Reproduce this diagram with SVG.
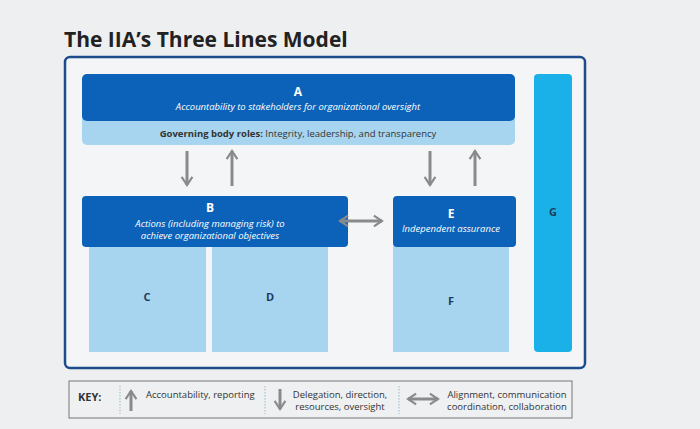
<svg xmlns="http://www.w3.org/2000/svg" width="700" height="429" viewBox="0 0 700 429">
<defs>
<marker id="ah" viewBox="0 0 10 10" refX="7" refY="5" markerWidth="4.5" markerHeight="4.5" orient="auto-start-reverse"><path d="M1,1 L7,5 L1,9" fill="none" stroke="#8a8a8a" stroke-width="1.6"/></marker>
</defs>
<style>
text{font-family:"Open Sans","Liberation Sans",sans-serif}
.dk{fill:#0b62b8}.lt{fill:#a7d5ef}
.w{fill:#fff;font-size:9.5px;font-style:italic}
.wb{fill:#fff;font-size:12px;font-weight:bold}
.k{fill:#333;font-size:9.5px}
.ar{stroke:#8a8a8a;stroke-width:3;fill:none;marker-end:url(#ah)}
.dash{stroke:#9ab8cc;stroke-width:1;stroke-dasharray:1.5 1.5}
</style>
<rect width="700" height="429" fill="#eeeff0"/>
<text x="64" y="47" font-size="21" font-weight="bold" fill="#222">The IIA’s Three Lines Model</text>
<rect x="65" y="57" width="520" height="311" rx="5" fill="#f3f5f6" stroke="#1d4c8c" stroke-width="2.5"/>
<g id="A">
<rect x="82" y="74" width="433" height="71" rx="5" class="lt"/>
<rect x="82" y="74" width="433" height="47" rx="5" class="dk"/>
<text x="298" y="96" text-anchor="middle" class="wb">A</text>
<text x="298" y="110" text-anchor="middle" class="w">Accountability to stakeholders for organizational oversight</text>
<text x="298" y="137" text-anchor="middle" font-size="9.5" fill="#333"><tspan font-weight="bold">Governing body roles:</tspan> Integrity, leadership, and transparency</text>
</g>
<g id="G"><rect x="534" y="74" width="38" height="278" rx="4" fill="#1ab0e8"/><text x="553" y="216" text-anchor="middle" font-size="11" font-weight="bold" fill="#1d3c5c">G</text></g>
<g id="C"><rect x="89" y="246" width="117" height="106" class="lt"/><text x="147" y="301" text-anchor="middle" font-size="11" font-weight="bold" fill="#1d3c5c">C</text></g>
<g id="D"><rect x="212" y="246" width="116" height="106" class="lt"/><text x="270" y="301" text-anchor="middle" font-size="11" font-weight="bold" fill="#1d3c5c">D</text></g>
<g id="F"><rect x="393" y="246" width="116" height="106" class="lt"/><text x="451" y="305" text-anchor="middle" font-size="11" font-weight="bold" fill="#1d3c5c">F</text></g>
<g id="B"><rect x="82" y="196" width="266" height="51" rx="4" class="dk"/>
<text x="210" y="212" text-anchor="middle" class="wb" font-size="11">B</text>
<text x="210" y="227" text-anchor="middle" class="w">Actions (including managing risk) to</text>
<text x="210" y="239" text-anchor="middle" class="w">achieve organizational objectives</text></g>
<g id="E"><rect x="393" y="196" width="123" height="51" rx="4" class="dk"/>
<text x="451" y="218" text-anchor="middle" class="wb" font-size="11">E</text>
<text x="451" y="232" text-anchor="middle" class="w">Independent assurance</text></g>
<g id="connectors">
<line x1="187" y1="151" x2="187" y2="185" class="ar"/>
<line x1="232" y1="186" x2="232" y2="151" class="ar"/>
<line x1="430" y1="151" x2="430" y2="185" class="ar"/>
<line x1="475" y1="186" x2="475" y2="151" class="ar"/>
<line x1="340" y1="221" x2="382" y2="221" class="ar" marker-start="url(#ah)"/>
</g>
<g id="key">
<rect x="69" y="381" width="503" height="37" fill="#eef0f1" stroke="#777" stroke-width="1"/>
<text x="78" y="401" font-size="11" font-weight="bold" fill="#333">KEY:</text>
<line x1="120" y1="386" x2="120" y2="414" class="dash"/>
<line x1="131" y1="411" x2="131" y2="391" class="ar"/>
<text x="146" y="398" class="k">Accountability, reporting</text>
<line x1="265" y1="386" x2="265" y2="414" class="dash"/>
<line x1="280" y1="389" x2="280" y2="409" class="ar"/>
<text x="340" y="398" text-anchor="middle" class="k">Delegation, direction,</text>
<text x="340" y="410" text-anchor="middle" class="k">resources, oversight</text>
<line x1="399" y1="386" x2="399" y2="414" class="dash"/>
<line x1="408" y1="399" x2="438" y2="399" class="ar" marker-start="url(#ah)"/>
<text x="507" y="398" text-anchor="middle" class="k">Alignment, communication</text>
<text x="507" y="410" text-anchor="middle" class="k">coordination, collaboration</text>
</g>
</svg>
